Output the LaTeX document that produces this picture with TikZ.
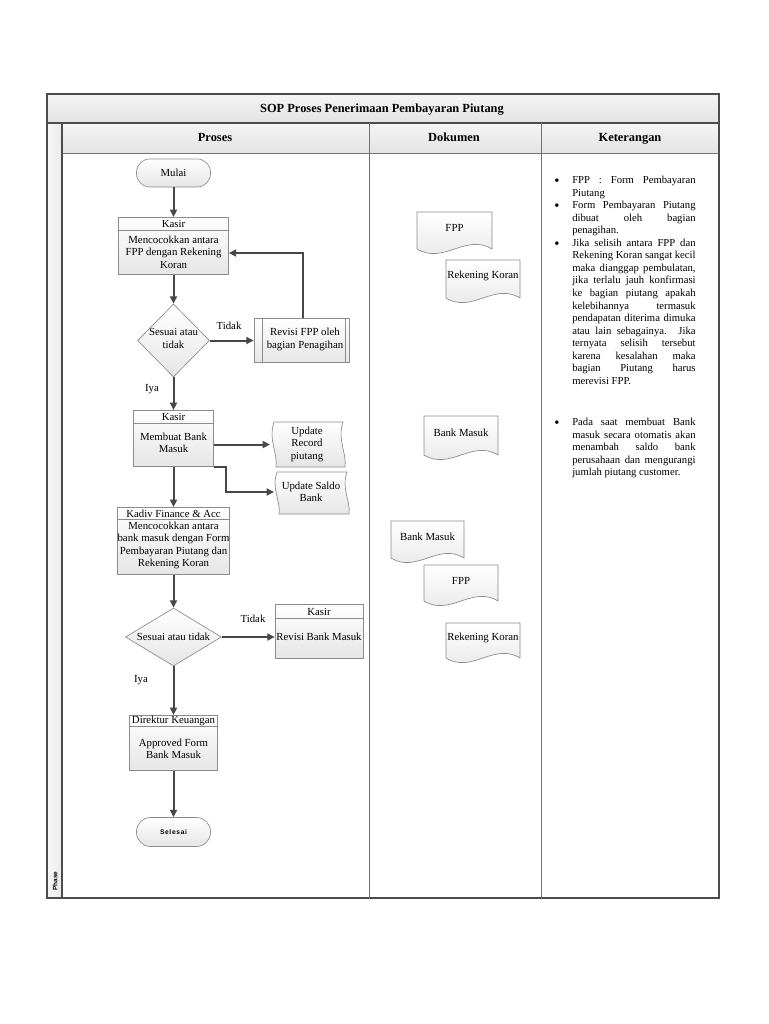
\documentclass[tikz,border=0pt]{standalone}
\usepackage{fontspec}
\setmainfont{Liberation Serif}
\newfontfamily\sansf{Liberation Sans}
\usetikzlibrary{shapes.geometric,arrows.meta,calc}
\tikzset{
  frame/.style={draw=black!70, line width=0.8pt},
  thinframe/.style={draw=black!55, line width=0.6pt},
  shadebox/.style={draw=black!45, line width=0.5pt, top color=white, bottom color=black!10},
  sepline/.style={draw=black!45, line width=0.5pt},
  txt/.style={font=\fontsize{8.1}{9.4}\selectfont, inner sep=0pt, align=center},
  hdr/.style={font=\fontsize{9.3}{11}\selectfont\bfseries, inner sep=0pt, anchor=base},
  arr/.style={draw=black!72, line width=1.5pt, -{Triangle[length=5.5pt,width=5.2pt]}},
  lbl/.style={font=\fontsize{8.1}{9.4}\selectfont, inner sep=0pt},
  ket/.style={anchor=north west, inner sep=0pt, text width=106pt, align=justify,
              font=\fontsize{8}{9.4}\selectfont},
}
\newcommand\bul{\makebox[13.5pt][l]{\raisebox{-1.6pt}{\fontsize{11}{9}\selectfont\textbullet}}}
% swimlane box: name, cx, top, width, height, header height, header, body, body y
\newcommand\lanebox[9]{%
  \node[shadebox, minimum width=#4*0.75pt, minimum height=#5*0.75pt, anchor=north, inner sep=0pt] (#1) at (#2,#3) {};
  \draw[sepline] ($(#1.north west)+(0,#6)$) -- ($(#1.north east)+(0,#6)$);
  \node[txt] (#1-h) at ($(#1.north)+(0,#6/2+0.5)$) {#7};
  \node[txt] (#1-b) at (#2,#9) {#8};
}
% document: name, left, top, width, height, text, text y
\newcommand\docshape[7]{%
  \draw[shadebox] (#2,#3) -- ({#2+#4},#3) -- ({#2+#4},{#3+#5})
    .. controls ({#2+0.65*#4},{#3+#5-16}) and ({#2+0.35*#4},{#3+#5+16}) .. (#2,{#3+#5}) -- cycle;
  \node[txt] (#1) at ({#2+#4/2},#7) {#6};
}
% tape: left, top, right, bottom
\newcommand\tapeshape[4]{%
  \draw[shadebox] (#1,#2) -- (#3,#2)
    .. controls ({#3-6},{#2+0.4*(#4-#2)}) and ({#3+4},{#2+0.7*(#4-#2)}) .. ({#3+2},#4)
    -- ({#1+2},#4)
    .. controls ({#1+4},{#2+0.7*(#4-#2)}) and ({#1-6},{#2+0.4*(#4-#2)}) .. (#1,#2) -- cycle;
}
\begin{document}
\begin{tikzpicture}[x=0.75pt,y=-0.75pt]
\useasboundingbox (0,0) rectangle (768,1024);
\fill[white] (0,0) rectangle (768,1024);
% ---------- frame ----------
\shade[top color=black!4, bottom color=black!11] (47,94) rectangle (719,123);
\shade[top color=black!4, bottom color=black!11] (62,123) rectangle (719,153);
\shade[left color=black!3, right color=black!8] (47,123) rectangle (62,898);
\draw[frame] (47,94) rectangle (719,898);
\draw[frame] (47,123) -- (719,123);
\draw[thinframe] (62,153) -- (719,153);
\draw[frame] (62,123) -- (62,898);
\draw[thinframe] (369,123) -- (369,898);
\draw[thinframe] (541,123) -- (541,898);
\node[hdr] (title) at (382,112.5) {SOP Proses Penerimaan Pembayaran Piutang};
\node[hdr] (hproses) at (215,141.5) {Proses};
\node[hdr] (hdok) at (454,141.5) {Dokumen};
\node[hdr] (hket) at (630,141.5) {Keterangan};
\node[rotate=90, font=\sansf\bfseries\fontsize{4.8}{5}\selectfont, inner sep=0pt] (phase) at (55,881) {Phase};
% ---------- process ----------
\node[shadebox, rounded corners=10pt, minimum width=74*0.75pt, minimum height=28*0.75pt, txt] (mulai) at (173.5,173) {Mulai};
\lanebox{k1}{173.5}{217}{110}{57}{13}{Kasir}{Mencocokkan antara\\FPP dengan Rekening\\Koran}{252}
\node[shadebox, diamond, minimum width=72*0.75pt, minimum height=73*0.75pt, inner sep=0pt] (d1) at (173.5,340.5) {};
\node[txt] (d1t) at (173.5,338.5) {Sesuai atau\\tidak};
\node[shadebox, minimum width=95*0.75pt, minimum height=44*0.75pt, inner sep=0pt] (rev) at (301.5,340.5) {};
\draw[sepline] ($(rev.north west)+(9,0)$) -- ($(rev.south west)+(9,0)$);
\draw[sepline] ($(rev.north east)+(-4,0)$) -- ($(rev.south east)+(-4,0)$);
\node[txt] (revt) at (305,339.5) {Revisi FPP oleh\\bagian Penagihan};
\node[lbl] (tidak1) at (229,326) {Tidak};
\node[lbl] (iya1) at (152,389) {Iya};
\lanebox{k2}{173.5}{410}{80}{56}{13}{Kasir}{Membuat Bank\\Masuk}{443}
\tapeshape{274}{422}{343}{467}
\node[txt] (ur) at (307,444) {Update\\Record\\piutang};
\tapeshape{277}{472}{347}{514}
\node[txt] (us) at (311,492) {Update Saldo\\Bank};
\coordinate (urin) at (270,444.5);
\coordinate (usin) at (274,492);
\lanebox{kd}{173.5}{507}{112}{67}{12}{Kadiv Finance \& Acc}{Mencocokkan antara\\bank masuk dengan Form\\Pembayaran Piutang dan\\Rekening Koran}{545.5}
\node[shadebox, diamond, minimum width=96*0.75pt, minimum height=58*0.75pt, inner sep=0pt] (d2) at (173.5,637) {};
\node[txt] (d2t) at (173.5,637) {Sesuai atau tidak};
\lanebox{k3}{319}{604}{88}{54}{14}{Kasir}{Revisi Bank Masuk}{636.5}
\node[lbl] (tidak2) at (253,619) {Tidak};
\node[lbl] (iya2) at (141,680) {Iya};
\lanebox{dk}{173.5}{715}{88}{55}{11}{Direktur Keuangan}{Approved Form\\Bank Masuk}{749}
\node[shadebox, rounded corners=10.5pt, minimum width=74*0.75pt, minimum height=29*0.75pt, inner sep=0pt,
      font=\sansf\bfseries\fontsize{5}{6}\selectfont] (selesai) at (173.5,832) {S\kern0.5pt e\kern0.5pt l\kern0.5pt e\kern0.5pt s\kern0.5pt a\kern0.5pt i};
% ---------- connectors ----------
\coordinate (loopy) at (0,253);
\draw[arr] (mulai.south) -- (k1.north);
\draw[arr] (k1.south) -- (d1.north);
\draw[arr] (d1.east) -- (rev.west);
\draw[arr] ([xshift=1.1pt]rev.north) -- ([xshift=1.1pt]rev.north |- loopy) -- (k1.east |- loopy);
\draw[arr] (d1.south) -- (k2.north);
\draw[arr] (k2.east |- urin) -- (urin);
\draw[arr] (k2.south east) -- ++(12,0) |- (usin);
\draw[arr] (k2.south) -- (kd.north);
\draw[arr] (kd.south) -- (d2.north);
\draw[arr] (d2.east) -- (k3.west |- d2.east);
\draw[arr] (d2.south) -- (dk.north);
\draw[arr] (dk.south) -- (selesai.north);
% ---------- documents ----------
\docshape{fpp1}{417}{212}{75}{37}{FPP}{228}
\docshape{rk1}{446}{260}{74}{38}{Rekening Koran}{276}
\docshape{bm1}{424}{416}{74}{39}{Bank Masuk}{432.5}
\docshape{bm2}{391}{521}{73}{37}{Bank Masuk}{537}
\docshape{fpp2}{424}{565}{74}{36}{FPP}{581}
\docshape{rk2}{446}{623}{74}{35}{Rekening Koran}{638}
% ---------- keterangan ----------
\node[ket] (ket1) at (554,176) {\tolerance=9999\hbadness=10000
\hangindent=13.5pt\hangafter=1\noindent\bul FPP : Form Pembayaran\linebreak Piutang\par
\hangindent=13.5pt\hangafter=1\noindent\bul Form Pembayaran Piutang\linebreak dibuat oleh bagian\linebreak penagihan.\par
\hangindent=13.5pt\hangafter=1\noindent\bul Jika selisih antara FPP dan\linebreak Rekening Koran sangat kecil\linebreak maka dianggap pembulatan,\linebreak jika terlalu jauh konfirmasi\linebreak ke bagian piutang apakah\linebreak kelebihannya termasuk\linebreak pendapatan diterima dimuka\linebreak atau lain sebagainya. Jika\linebreak ternyata selisih tersebut\linebreak karena kesalahan maka\linebreak bagian Piutang harus\linebreak merevisi FPP.\par};
\node[ket] (ket2) at (554,418) {\tolerance=9999\hbadness=10000
\hangindent=13.5pt\hangafter=1\noindent\bul Pada saat membuat Bank\linebreak masuk secara otomatis akan\linebreak menambah saldo bank\linebreak perusahaan dan mengurangi\linebreak jumlah piutang customer.\par};
\end{tikzpicture}
\end{document}
